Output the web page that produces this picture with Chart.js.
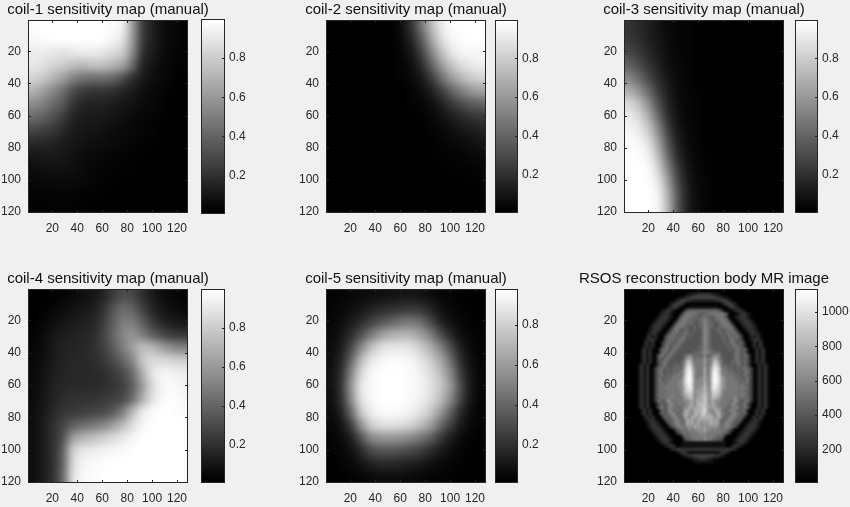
<!DOCTYPE html>
<html>
<head>
<meta charset="utf-8">
<script src="https://cdn.jsdelivr.net/npm/chart.js@4/dist/chart.umd.min.js"></script>
<style>
  html, body { margin: 0; width: 850px; height: 507px; overflow: hidden; background: #f0f0f0; }
  canvas { position: absolute; }
</style>
</head>
<body>
<script>
// Values, 0-99 on a 16x15 grid (8 image units per cell)
const coil1Map = [
  [99,99,99,99,99,99,99,99,98,95,62,22,12,6,3,1],
  [96,98,99,99,99,99,99,99,95,90,60,22,12,6,3,1],
  [92,92,90,88,90,92,92,90,85,80,55,18,10,5,2,1],
  [90,88,82,80,74,72,75,75,70,65,42,13,8,4,2,1],
  [82,78,70,62,50,44,42,42,40,30,18,10,6,3,1,0],
  [70,62,52,44,30,22,20,20,18,14,10,6,4,2,1,0],
  [55,50,42,34,20,14,13,13,11,9,7,4,3,1,0,0],
  [42,38,32,24,14,11,10,9,8,6,4,3,2,1,0,0],
  [28,25,22,16,11,9,8,7,5,4,3,2,1,0,0,0],
  [16,15,14,11,9,7,6,5,4,3,2,1,1,0,0,0],
  [9,10,10,9,7,5,4,3,2,2,1,1,0,0,0,0],
  [5,6,7,7,6,4,3,2,1,1,1,0,0,0,0,0],
  [3,3,4,4,4,3,2,1,1,0,0,0,0,0,0,0],
  [1,2,2,2,2,1,1,1,0,0,0,0,0,0,0,0],
  [1,1,1,1,1,1,0,0,0,0,0,0,0,0,0,0],
];
const coil2Map = [
  [0,0,0,0,0,0,0,4,18,42,70,90,98,99,99,99],
  [0,0,0,0,0,0,0,3,12,32,60,84,95,98,99,99],
  [0,0,0,0,0,0,0,2,8,22,48,72,88,95,96,96],
  [0,0,0,0,0,0,0,1,5,14,34,58,75,85,90,92],
  [0,0,0,0,0,0,0,1,3,8,20,40,58,70,78,82],
  [0,0,0,0,0,0,0,0,1,4,10,22,36,48,58,62],
  [0,0,0,0,0,0,0,0,1,2,5,11,20,28,35,38],
  [0,0,0,0,0,0,0,0,0,1,2,6,10,15,19,22],
  [0,0,0,0,0,0,0,0,0,0,1,3,5,8,11,13],
  [0,0,0,0,0,0,0,0,0,0,0,1,3,4,6,8],
  [0,0,0,0,0,0,0,0,0,0,0,1,1,2,3,4],
  [0,0,0,0,0,0,0,0,0,0,0,0,1,1,1,2],
  [0,0,0,0,0,0,0,0,0,0,0,0,0,0,1,1],
  [0,0,0,0,0,0,0,0,0,0,0,0,0,0,0,0],
  [0,0,0,0,0,0,0,0,0,0,0,0,0,0,0,0],
];
const coil3Map = [
  [20,16,12,7,4,2,1,0,0,0,0,0,0,0,0,0],
  [22,18,12,8,4,2,1,0,0,0,0,0,0,0,0,0],
  [28,22,15,9,5,2,1,0,0,0,0,0,0,0,0,0],
  [38,30,20,12,6,3,1,0,0,0,0,0,0,0,0,0],
  [52,42,28,16,8,3,1,0,0,0,0,0,0,0,0,0],
  [68,58,40,22,10,4,2,1,0,0,0,0,0,0,0,0],
  [85,75,55,30,13,5,2,1,0,0,0,0,0,0,0,0],
  [92,85,68,40,16,6,2,1,0,0,0,0,0,0,0,0],
  [95,92,78,52,22,8,3,1,0,0,0,0,0,0,0,0],
  [98,96,88,62,30,11,4,1,0,0,0,0,0,0,0,0],
  [99,99,94,72,38,14,5,2,1,0,0,0,0,0,0,0],
  [99,99,98,82,48,20,7,2,1,0,0,0,0,0,0,0],
  [99,99,99,90,58,25,9,3,1,0,0,0,0,0,0,0],
  [99,99,99,94,66,30,10,3,1,0,0,0,0,0,0,0],
  [99,99,99,96,68,30,10,4,1,0,0,0,0,0,0,0],
];
const coil4Map = [
  [0,0,1,2,4,6,8,12,22,30,28,18,10,5,3,2],
  [0,1,2,4,7,9,11,18,32,42,38,25,14,8,5,3],
  [0,2,5,8,10,12,14,22,36,48,48,36,22,14,10,8],
  [1,4,8,11,13,14,16,24,38,52,58,48,36,28,22,20],
  [2,5,9,13,14,15,17,24,35,48,62,75,72,62,54,50],
  [3,6,10,13,15,16,17,20,28,38,52,78,85,85,82,80],
  [3,7,11,14,15,15,16,17,22,28,40,68,90,96,95,92],
  [4,7,12,15,16,16,16,17,20,24,36,60,85,96,98,94],
  [4,8,13,17,19,20,20,22,24,28,42,68,88,97,99,96],
  [5,9,15,20,22,24,26,28,34,48,72,92,98,99,99,97],
  [5,10,18,26,36,42,46,52,60,72,86,96,99,99,99,99],
  [5,10,18,30,62,70,75,80,85,90,95,99,99,99,99,99],
  [5,10,18,35,82,90,92,94,96,97,99,99,99,99,99,99],
  [5,10,18,36,85,95,97,98,99,99,99,99,99,99,99,99],
  [5,10,18,38,88,97,98,99,99,99,99,99,99,99,99,99],
];
const coil5Map = [
  [1,2,3,4,5,6,7,8,8,7,5,3,2,1,0,0],
  [1,3,5,8,12,16,18,20,22,20,14,6,3,1,1,0],
  [2,5,10,16,24,32,38,44,46,42,28,13,6,3,1,0],
  [3,7,16,30,46,60,68,70,70,62,50,30,15,6,2,1],
  [4,10,26,52,74,86,90,90,88,80,68,52,30,12,4,1],
  [5,13,38,72,90,96,98,98,96,90,80,66,44,18,6,2],
  [6,16,50,84,96,99,99,99,98,94,86,74,54,24,8,2],
  [6,18,56,90,97,99,99,99,98,95,88,78,60,30,9,2],
  [5,16,52,88,96,99,99,99,97,93,86,74,54,26,8,1],
  [4,12,38,78,92,97,98,97,94,88,78,60,38,16,5,1],
  [2,7,22,56,80,86,88,86,82,74,62,42,24,10,3,1],
  [1,4,11,30,52,58,58,56,52,46,36,22,11,4,1,0],
  [1,2,6,15,28,33,33,31,28,24,16,10,5,2,1,0],
  [0,1,3,7,12,15,15,14,12,10,6,4,2,1,0,0],
  [0,0,1,2,4,5,5,5,4,3,2,1,1,0,0,0],
];
// MR image, one hex digit per cell (0 black .. f white), 64x60 grid; spaces only group the columns
const brainRows = [
  "0000000000000000000000000000000000000000000000000000000000000000",
  "0000000000000000000000000 11223333332211 0000000000000000000000000",
  "0000000000000000000000 11233444444444433211 0000000000000000000000",
  "00000000000000000000 123443322222222223344321 00000000000000000000",
  "000000000000000000 1234431 00000000000000 1344321 000000000000000000",
  "00000000000000000 123431 000 111111111111 000 134321 00000000000000000",
  "000000000000000 1233210 00 3566666666666653 00 0123321 000000000000000",
  "00000000000000 1233210 00 4677776656677777764 00 0123321 0000000000000",
  "0000000000000 123332100 46777666567665677764 001233321 0000000000000",
  "000000000000 123332100 3677766656777656677763 001233321 000000000000",
  "00000000000 123332100 367776665566876655677763 001233321 00000000000",
  "0000000000 123332100 36777665565668766556677763 001233321 0000000000",
  "0000000000 12332100 3577656655655687655665667753 00123321 0000000000",
  "000000000 12332100 357675667565556876555665766753 00123321 000000000",
  "000000000 2313100 35767566756555568765555665766753 0013132 000000000",
  "00000000 12332100 46675667655555568765555565676654 00123321 00000000",
  "00000000 2313100 3567566765555555687655555656765653 0013132 00000000",
  "00000000 2313100 3675667655555556687655555565676653 0013132 00000000",
  "0000000 2313100 366756765555555566876655555565676563 0013132 0000000",
  "0000000 2313100 367567655555556667887666655555676563 0013132 0000000",
  "0000000 231310 36756765555 6787 6666 8 66 7887 555556765663 013132 0000000",
  "0000000 231310 36567655555 79a8 6777 9 77 8a97 655556765653 013132 0000000",
  "0000000 231310 35676555556 8bc9 7777 9 77 9cb8 655566765653 013132 0000000",
  "000000 2313100 35675556666 9cda 7777 9 77 adc9 666565675653 0013132 000000",
  "000000 231310 356756566666 adeb 8777 a 78 bedb 7766656567653 013132 000000",
  "000000 231310 357656566677 bdfc 8777 a 78 cfdb 7776665656753 013132 000000",
  "000000 231310 356756667777 befc 8777 a 78 cfeb 8777766657653 013132 000000",
  "000000 231310 357566677778 cefd 8788 a 88 dfec 9877776665753 013132 000000",
  "000000 231310 357666777788 cefd 8888 a 88 dfec 9877777666753 013132 000000",
  "000000 231310 356767777788 cdfc 8888 b 88 cfdc 9877777676653 013132 000000",
  "000000 231310 357677777788 bded 8899 b 98 dedb 9877777777653 013132 000000",
  "000000 231310 356767777778 bcdc 8999 b 98 cdcb 8777777676653 013132 000000",
  "000000 231310 357677777778 abcb 899a b a8 bcba 8777777777653 013132 000000",
  "000000 231310 356767787777 9abb 89aa c a8 bba9 7777787676653 013132 000000",
  "000000 231310 357568867777 889a 8aaa c a8 a988 7777688656753 013132 000000",
  "000000 2313100 35656886777 789a 8abb c a8 a987 777688656753 0013132 000000",
  "000000 2313100 36756877667 88a9 9aab c a9 9a88 776677865763 0013132 000000",
  "0000000 2313100 3656876766 9a98 aabb d a8 89a9 76678765663 0013132 0000000",
  "0000000 2313100 3656787667 aa88 ab9c c 9a 88aa 77667876563 0013132 0000000",
  "00000000 2313100 365678766 a98a a9ab a ba a89a 7667876563 0013132 00000000",
  "00000000 12332100 36567876 7a9a 89a9 a 9a a9a7 667876563 00123321 00000000",
  "000000000 12332100 3567876 7a9a 8a98 9 8a a9a7 67876553 00123321 000000000",
  "000000000 123332100 356787 7898 a998 9 89 8987 6787653 001233321 000000000",
  "0000000000 1233321000 3567 6787 8898 a 88 7877 77653 0001233321 0000000000",
  "00000000000 1233321000 356 7677 7788 8 77 7777 6653 0001233321 00000000000",
  "000000000000 12333210000 366677777877776663 00001233321 000000000000",
  "0000000000000 12333210000 4566777787766554 00001233321 0000000000000",
  "00000000000000 123321 000111111111111111111000 123321 00000000000000",
  "0000000000000000 12332 0011111111111111111100 23321 0000000000000000",
  "000000000000000000 123343 3333333333333333 343321 000000000000000000",
  "000000000000000000000 1233 21111111111112 3321 000000000000000000000",
  "00000000000000000000000 12 33344444444333 21 00000000000000000000000",
  "00000000000000000000000000 112233322111 00000000000000000000000000",
  "0000000000000000000000000000 11111111 0000000000000000000000000000",
  "0000000000000000000000000000000000000000000000000000000000000000",
  "0000000000000000000000000000000000000000000000000000000000000000",
  "0000000000000000000000000000000000000000000000000000000000000000",
  "0000000000000000000000000000000000000000000000000000000000000000",
  "0000000000000000000000000000000000000000000000000000000000000000",
  "0000000000000000000000000000000000000000000000000000000000000000",
];
const xTicks = [20, 40, 60, 80, 100, 120];
const yTicks = [20, 40, 60, 80, 100, 120];
const coilBarTicks = [0.2, 0.4, 0.6, 0.8];
const brainBarTicks = [200, 400, 600, 800, 1000];
const grayLevels = [0,1,2,3,4,5,6,7,8,9,10,11,12,13,14,15,16,17,18,19,20,21,22,23,24,25,26,27,28,29,30,31,
  32,33,34,35,36,37,38,39,40,41,42,43,44,45,46,47,48,49,50,51,52,53,54,55,56,57,58,59,60,61,62,63];

const INK = '#262626';
const tickFont = { family: '"Liberation Sans", Arial, sans-serif', size: 12 };

const gray = f => { const g = Math.round(f * 255); return `rgb(${g},${g},${g})`; };

// smooths the cells (stretching edges so the border stays solid), then draws box and inward ticks
const imageFrame = {
  id: 'imageFrame',
  afterDatasetsDraw(chart, args, opts) {
    const ctx = chart.ctx;
    const { left, top, width: w, height: h } = chart.chartArea;
    if (opts.blur) {
      const src = chart.canvas, dpr = chart.currentDevicePixelRatio;
      const p = Math.ceil(opts.blur * 3);
      const sx = left * dpr, sy = top * dpr, sw = w * dpr, sh = h * dpr;
      const off = document.createElement('canvas');
      off.width = (w + 2 * p) * dpr;
      off.height = (h + 2 * p) * dpr;
      const c = off.getContext('2d');
      c.scale(dpr, dpr);
      c.drawImage(src, sx, sy + 1, sw, 1, p, 0, w, p);
      c.drawImage(src, sx, sy + sh - 2, sw, 1, p, p + h, w, p);
      c.drawImage(src, sx + 1, sy, 1, sh, 0, p, p, h);
      c.drawImage(src, sx + sw - 2, sy, 1, sh, p + w, p, p, h);
      c.drawImage(src, sx + 1, sy + 1, 1, 1, 0, 0, p, p);
      c.drawImage(src, sx + sw - 2, sy + 1, 1, 1, p + w, 0, p, p);
      c.drawImage(src, sx + 1, sy + sh - 2, 1, 1, 0, p + h, p, p);
      c.drawImage(src, sx + sw - 2, sy + sh - 2, 1, 1, p + w, p + h, p, p);
      c.drawImage(src, sx, sy, sw, sh, p, p, w, h);
      ctx.save();
      ctx.beginPath();
      ctx.rect(left, top, w, h);
      ctx.clip();
      ctx.filter = `blur(${opts.blur}px)`;
      ctx.drawImage(off, left - p, top - p, w + 2 * p, h + 2 * p);
      ctx.restore();
    }
    ctx.save();
    ctx.strokeStyle = INK;
    ctx.lineWidth = 1;
    ctx.strokeRect(left + 0.5, top + 0.5, w, h);
    ctx.beginPath();
    chart.scales.y.ticks.forEach(t => {
      const py = Math.round(chart.scales.y.getPixelForValue(t.value)) + 0.5;
      if (opts.image) { ctx.moveTo(left, py); ctx.lineTo(left + 3, py); }
      ctx.moveTo(left + w, py); ctx.lineTo(left + w - 2, py);
    });
    if (opts.image) {
      chart.scales.x.ticks.forEach(t => {
        const px = Math.round(chart.scales.x.getPixelForValue(t.value)) + 0.5;
        ctx.moveTo(px, top); ctx.lineTo(px, top + 3);
        ctx.moveTo(px, top + h); ctx.lineTo(px, top + h - 2);
      });
    }
    ctx.stroke();
    ctx.restore();
  },
};

function addCanvas(left, top, width, height) {
  const el = document.createElement('canvas');
  el.style.left = left + 'px';
  el.style.top = top + 'px';
  el.style.width = width + 'px';
  el.style.height = height + 'px';
  el.width = width;
  el.height = height;
  document.body.appendChild(el);
  return el;
}

function imageChart(title, cells, level, box, blur) {
  const margin = 60, above = 30, below = 26;
  const canvas = addCanvas(box.left - margin, box.top - above, box.width + 2 * margin + 1, box.height + above + below + 1);
  const nRows = cells.length, nCols = cells[0].length;
  const cw = 128 / nCols, ch = 120 / nRows;
  const datasets = cells.map((row, r) => ({
    data: Array.from(row, (v, c) => ({ x: 0.5 + cw * (c + 0.5), y: [0.5 + ch * r, 0.5 + ch * (r + 1)] })),
    backgroundColor: Array.from(row, v => gray(level(v))),
    borderWidth: 0, barPercentage: 1, categoryPercentage: 1, grouped: false,
  }));
  return new Chart(canvas, {
    type: 'bar',
    data: { datasets },
    plugins: [imageFrame],
    options: {
      responsive: false, animation: false, events: [],
      layout: { autoPadding: false, padding: 0 },
      plugins: {
        legend: { display: false },
        tooltip: { enabled: false },
        imageFrame: { blur, image: true },
        title: {
          display: true, text: title, color: '#111',
          font: { family: tickFont.family, size: 15, weight: 'normal', lineHeight: 1 },
          padding: { top: 12, bottom: above - 12 - 15 },
        },
      },
      scales: {
        x: {
          type: 'linear', min: 0.5, max: 128, offset: false,
          grid: { display: false, drawTicks: false }, border: { display: false },
          ticks: { color: INK, font: tickFont, padding: 9, maxRotation: 0, autoSkip: false },
          afterBuildTicks: s => { s.ticks = xTicks.map(value => ({ value })); },
          afterFit: s => { s.height = below + 1; },
        },
        y: {
          type: 'linear', reverse: true, min: 0.5, max: 120,
          grid: { display: false, drawTicks: false }, border: { display: false },
          ticks: { color: INK, font: tickFont, padding: 7, autoSkip: false },
          afterBuildTicks: s => { s.ticks = yTicks.map(value => ({ value })); },
          afterFit: s => { s.width = margin; },
        },
        // empty right axis, keeps the plot off the canvas edge while the title stays centred
        pad: {
          type: 'linear', position: 'right', min: 0, max: 1,
          grid: { display: false, drawTicks: false }, border: { display: false },
          ticks: { display: false },
          afterFit: s => { s.width = margin + 1; },
        },
      },
    },
  });
}

function colorbarChart(range, ticks, box) {
  const right = 40, extra = 20;
  const canvas = addCanvas(box.left, box.top - extra, box.width + right + 1, box.height + 2 * extra + 1);
  const step = (range[1] - range[0]) / grayLevels.length;
  const datasets = grayLevels.map(i => ({
    data: [[range[0] + step * i, range[0] + step * (i + 1)]],
    backgroundColor: gray(i / 63),
    borderWidth: 0, barPercentage: 1, categoryPercentage: 1, grouped: false,
  }));
  return new Chart(canvas, {
    type: 'bar',
    data: { labels: [''], datasets },
    plugins: [imageFrame],
    options: {
      responsive: false, animation: false, events: [],
      layout: { autoPadding: false, padding: { top: extra, bottom: extra + 1 } },
      plugins: { legend: { display: false }, tooltip: { enabled: false }, imageFrame: { blur: 0, image: false } },
      scales: {
        x: { display: false },
        y: {
          position: 'right', min: range[0], max: range[1],
          grid: { display: false, drawTicks: false }, border: { display: false },
          ticks: { color: INK, font: tickFont, padding: 5, autoSkip: false, callback: v => String(v) },
          afterBuildTicks: s => { s.ticks = ticks.map(value => ({ value })); },
          afterFit: s => { s.width = right + 1; },
        },
      },
    },
  });
}

const fromCoil = v => v / 99;
const fromHex = ch => parseInt(ch, 16) / 15;
const brainCells = brainRows.map(r => r.replace(/ /g, ''));

imageChart('coil-1 sensitivity map (manual)', coil1Map, fromCoil, { left: 28, top: 20, width: 159, height: 192 }, 4);
imageChart('coil-2 sensitivity map (manual)', coil2Map, fromCoil, { left: 326, top: 20, width: 159, height: 192 }, 4);
imageChart('coil-3 sensitivity map (manual)', coil3Map, fromCoil, { left: 624, top: 20, width: 159, height: 192 }, 4);
imageChart('coil-4 sensitivity map (manual)', coil4Map, fromCoil, { left: 28, top: 289, width: 159, height: 193 }, 4);
imageChart('coil-5 sensitivity map (manual)', coil5Map, fromCoil, { left: 326, top: 289, width: 159, height: 193 }, 4);
imageChart('RSOS reconstruction body MR image', brainCells, fromHex, { left: 624, top: 289, width: 159, height: 193 }, 1.1);

colorbarChart([0.009, 1], coilBarTicks, { left: 201, top: 19, width: 23, height: 194 });
colorbarChart([0.0055, 0.9987], coilBarTicks, { left: 495, top: 20, width: 22, height: 192 });
colorbarChart([0.0055, 0.9987], coilBarTicks, { left: 795, top: 20, width: 22, height: 192 });
colorbarChart([0.007, 1], coilBarTicks, { left: 201, top: 289, width: 23, height: 193 });
colorbarChart([0.011, 0.98], coilBarTicks, { left: 495, top: 289, width: 22, height: 193 });
colorbarChart([10, 1134], brainBarTicks, { left: 795, top: 289, width: 22, height: 193 });
</script>
</body>
</html>
